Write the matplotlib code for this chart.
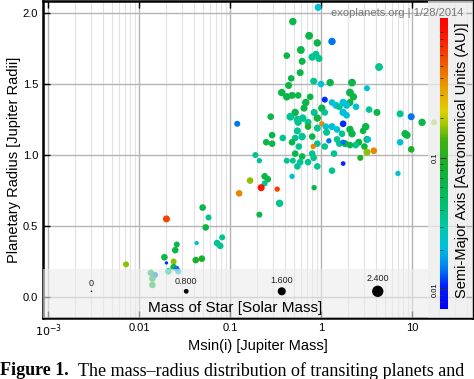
import numpy as np
import matplotlib
matplotlib.use("Agg")
import matplotlib.pyplot as plt
from matplotlib.colors import LinearSegmentedColormap, LogNorm
from matplotlib.ticker import FixedLocator, NullFormatter

plt.rcParams['font.family'] = ['Liberation Sans', 'DejaVu Sans']

# planet mass [Jupiter masses], radius [Jupiter radii], semi-major axis [AU], star mass [Msun]
planet_mass = [
    0.93, 0.49, 0.74, 0.91, 1.32, 0.60, 0.42, 0.62, 0.80, 0.88,
    0.95, 4.34, 0.59, 0.47, 0.83, 1.00, 1.26, 2.19, 0.44, 3.20,
    0.37, 0.42, 0.48, 0.56, 0.76, 2.08, 2.27, 2.08, 1.10, 0.68,
    0.65, 1.32, 1.46, 1.59, 1.75, 1.91, 1.02, 1.10, 0.84, 1.75,
    1.91, 2.42, 3.37, 4.12, 7.40, 9.80, 12.9, 17.5, 0.12, 0.28,
    0.52, 0.46, 0.55, 0.63, 0.56, 0.72, 0.91, 1.02, 0.72, 0.91,
    1.13, 1.15, 1.75, 1.32, 1.50, 1.70, 2.08, 2.19, 3.10, 2.90,
    0.55, 0.62, 0.52, 0.80, 0.91, 1.22, 1.10, 1.59, 0.38, 0.29,
    0.25, 0.29, 0.48, 0.57, 0.82, 3.20, 2.60, 3.30, 2.40, 1.84,
    2.08, 1.75, 1.50, 8.40, 8.80, 7.40, 9.80, 3.00, 3.20, 3.80,
    1.39, 2.70, 1.75, 1.32, 7.00, 0.91, 0.80, 0.83, 0.72, 0.62,
    0.59, 0.52, 0.42, 0.49, 0.55, 0.48, 0.84, 0.24, 0.26, 0.24,
    0.19, 0.21, 0.166, 0.22, 0.33, 0.126, 0.35, 0.21, 0.050, 0.058,
    0.020, 0.054, 0.082, 0.072, 0.078, 0.043, 0.026, 0.025, 0.019, 0.020,
    0.024, 0.024, 0.042, 0.049, 0.0072, 0.021, 0.027, 0.026, 0.0135, 0.015,
    0.014, 0.014,
]
planet_radius = [
    2.04, 1.94, 1.84, 1.79, 1.80, 1.74, 1.70, 1.66, 1.69, 1.71,
    1.68, 1.62, 1.58, 1.54, 1.52, 1.50, 1.51, 1.51, 1.49, 1.47,
    1.44, 1.41, 1.42, 1.42, 1.41, 1.44, 1.41, 1.37, 1.39, 1.37,
    1.33, 1.37, 1.35, 1.34, 1.37, 1.35, 1.33, 1.30, 1.30, 1.30,
    1.28, 1.34, 1.32, 1.30, 1.29, 1.27, 1.23, 1.23, 1.22, 1.27,
    1.30, 1.27, 1.25, 1.26, 1.23, 1.23, 1.26, 1.22, 1.20, 1.19,
    1.20, 1.16, 1.22, 1.20, 1.18, 1.15, 1.18, 1.15, 1.20, 1.17,
    1.17, 1.13, 1.12, 1.13, 1.08, 1.10, 1.06, 1.08, 1.12, 1.14,
    1.09, 1.08, 1.09, 1.06, 1.06, 1.11, 1.09, 1.11, 1.07, 1.08,
    1.07, 1.09, 1.11, 1.15, 1.14, 1.09, 1.04, 1.06, 1.02, 1.03,
    1.01, 0.98, 0.94, 0.89, 0.87, 0.92, 1.01, 0.98, 0.95, 0.99,
    0.95, 1.01, 0.96, 0.96, 0.92, 0.85, 0.77, 0.85, 0.83, 0.80,
    1.00, 0.96, 0.82, 0.77, 0.76, 0.73, 0.66, 0.58, 0.63, 0.56,
    0.55, 0.49, 0.42, 0.38, 0.36, 0.38, 0.37, 0.33, 0.28, 0.24,
    0.25, 0.21, 0.26, 0.27, 0.23, 0.18, 0.18, 0.20, 0.17, 0.155,
    0.13, 0.085,
]
semi_major = [
    0.022, 0.065, 0.065, 0.065, 0.014, 0.065, 0.065, 0.065, 0.035, 0.035,
    0.035, 0.035, 0.065, 0.065, 0.035, 0.022, 0.065, 0.065, 0.065, 0.022,
    0.065, 0.065, 0.065, 0.065, 0.065, 0.065, 0.065, 0.065, 0.011, 0.065,
    0.065, 0.022, 0.022, 0.035, 0.022, 0.022, 0.065, 0.035, 0.035, 0.022,
    0.022, 0.022, 0.035, 0.065, 0.035, 0.014, 0.065, 0.17, 0.014, 0.065,
    0.065, 0.035, 0.035, 0.035, 0.035, 0.035, 0.065, 0.40, 0.09, 0.035,
    0.022, 0.035, 0.011, 0.022, 0.022, 0.035, 0.065, 0.065, 0.065, 0.065,
    0.035, 0.035, 0.035, 0.065, 0.035, 0.014, 0.035, 0.035, 0.035, 0.065,
    0.065, 0.065, 0.065, 0.035, 0.40, 0.065, 0.065, 0.022, 0.035, 0.065,
    0.065, 0.014, 0.035, 0.065, 0.065, 0.022, 0.09, 0.065, 0.17, 0.40,
    0.035, 0.09, 0.011, 0.035, 0.022, 0.035, 0.035, 0.035, 0.035, 0.065,
    0.035, 0.065, 0.035, 0.035, 0.035, 0.022, 0.065, 0.065, 0.065, 0.035,
    0.035, 0.035, 0.17, 0.90, 0.60, 0.40, 0.035, 0.065, 0.065, 0.035,
    0.60, 0.065, 0.035, 0.035, 0.035, 0.022, 0.065, 0.065, 0.065, 0.011,
    0.17, 0.065, 0.09, 0.09, 0.17, 0.035, 0.022, 0.014, 0.065, 0.014,
    0.065, 0.065,
]
star_mass = [
    1.35, 1.45, 1.55, 1.45, 1.45, 1.55, 1.25, 1.35, 1.45, 1.35,
    1.35, 1.55, 1.35, 1.25, 1.35, 1.25, 1.45, 1.55, 1.35, 1.10,
    1.45, 1.45, 1.35, 1.25, 1.25, 1.55, 1.45, 1.35, 1.10, 1.45,
    1.35, 1.25, 1.35, 1.25, 1.45, 1.35, 1.45, 1.25, 1.35, 1.45,
    1.25, 1.25, 1.25, 1.35, 1.35, 1.35, 1.45, 1.10, 1.10, 1.25,
    1.45, 1.55, 1.45, 1.45, 1.35, 1.35, 1.45, 0.95, 1.25, 1.35,
    1.25, 1.35, 1.25, 1.35, 1.25, 1.25, 1.45, 1.45, 1.45, 1.25,
    1.35, 1.45, 1.25, 1.25, 1.25, 0.95, 1.25, 1.25, 1.25, 1.25,
    1.25, 1.25, 1.25, 1.25, 0.95, 1.35, 1.35, 1.10, 1.25, 1.35,
    1.25, 0.95, 1.25, 1.45, 1.45, 1.25, 1.25, 1.25, 1.35, 1.25,
    1.25, 1.10, 0.80, 1.25, 0.95, 1.25, 1.25, 1.25, 1.25, 1.25,
    1.25, 1.25, 1.10, 1.10, 1.25, 0.95, 0.95, 1.25, 1.25, 1.10,
    1.10, 0.95, 1.25, 1.35, 0.95, 1.25, 1.45, 1.10, 1.25, 1.10,
    1.35, 1.25, 1.10, 1.25, 1.25, 0.70, 1.10, 1.25, 1.25, 0.45,
    1.10, 1.25, 1.25, 1.25, 1.10, 1.25, 1.10, 0.95, 1.25, 1.10,
    1.25, 1.25,
]

legend_star_mass = [0.0, 0.8, 1.6, 2.4]
legend_x = [0.0030, 0.033, 0.37, 4.2]
legend_labels = ["0", "0.800", "1.600", "2.400"]


def marker_size(m):
    d_px = 1.5 + 4.1 * np.asarray(m)
    return (d_px * 0.72) ** 2


cmap = LinearSegmentedColormap.from_list("sma", [
    (0.00, "#0000ff"), (0.08, "#0020ff"), (0.14, "#0080f0"), (0.21, "#00c0e0"),
    (0.28, "#00c8a8"), (0.36, "#00c070"), (0.48, "#10b030"), (0.58, "#40b010"),
    (0.64, "#a8c800"), (0.68, "#e0d000"), (0.76, "#e8a000"), (0.84, "#f06000"),
    (0.92, "#ff2000"), (1.00, "#ff0000")])
norm = LogNorm(vmin=0.0071, vmax=1.15)

fig = plt.figure(figsize=(4.74, 3.79), dpi=100)
ax = fig.add_axes([43 / 474, 61 / 379, 430 / 474, 317 / 379])
ax.set_xscale("log")
ax.set_xlim(8.8e-4, 46.8)
ax.set_ylim(-0.148, 2.085)

# grid
ax.set_axisbelow(True)
ax.xaxis.set_minor_locator(FixedLocator([k * 10.0 ** e for e in range(-4, 2) for k in range(2, 10)]))
ax.xaxis.set_minor_formatter(NullFormatter())
ax.grid(which="major", color="#b4b4b4", lw=1.0)
ax.grid(which="minor", axis="x", color="#e2e2e2", lw=0.8)

sc = ax.scatter(planet_mass, planet_radius, c=semi_major, s=marker_size(star_mass),
                cmap=cmap, norm=norm, linewidths=0, zorder=3)

# grey panels
ax.axhspan(-0.148, 0.197, xmin=0, xmax=385 / 430, color="#ececec", alpha=0.6, lw=0, zorder=4)
ax.axvspan(15.0, 46.8, color="#ececec", alpha=0.75, lw=0, zorder=4)

# star mass legend
ax.scatter(legend_x, [0.04] * 4, s=marker_size(legend_star_mass), c="k", linewidths=0, zorder=6)
for xv, m, lab in zip(legend_x, legend_star_mass, legend_labels):
    ax.annotate(lab, (xv, 0.04), xytext=(0, (1.5 + 4 * m) * 0.36 + 2), textcoords="offset points",
                ha="center", va="bottom", fontsize=6.5, color="#222222", zorder=6)
ax.text(0.113, -0.075, "Mass of Star [Solar Mass]", ha="center", va="center", fontsize=11, zorder=6)

ax.set_xticks([1e-3, 1e-2, 1e-1, 1, 10])
ax.set_xticklabels([r"$10^{-3}$", "0.01", "0.1", "1", "10"])
ax.set_yticks([0.0, 0.5, 1.0, 1.5, 2.0])
ax.set_yticklabels(["0.0", "0.5", "1.0", "1.5", "2.0"])
ax.tick_params(which="major", direction="in", length=5, width=1, top=True, right=True, labelsize=8)
ax.tick_params(which="minor", length=0)
for s in ax.spines.values():
    s.set_linewidth(1.8)
ax.set_xlabel("Msin(i) [Jupiter Mass]", fontsize=10.5, labelpad=0)
ax.set_ylabel("Planetary Radius [Jupiter Radii]", fontsize=10.5, labelpad=1)

# colour bar
cax = fig.add_axes([440 / 474, 70 / 379, 8 / 474, 291 / 379])
cb = fig.colorbar(sc, cax=cax)
cb.outline.set_visible(False)
cax.yaxis.set_ticks_position("left")
cax.yaxis.set_label_position("left")
cax.set_yticks([0.01, 0.1])
cax.set_yticklabels(["0.01", "0.1"])
cax.tick_params(which="both", direction="in", color="#333333", labelsize=5.5, pad=1)
cax.tick_params(which="major", length=4)
cax.tick_params(which="minor", length=2)
for lab in cax.get_yticklabels():
    lab.set_rotation(90)
    lab.set_va("center")

fig.text(462 / 474, 1 - 160 / 379, "Semi-Major Axis [Astronomical Units (AU)]", rotation=90,
         ha="center", va="center", fontsize=10.5)
fig.text(463 / 474, 1 - 13 / 379, "exoplanets.org | 1/28/2014", ha="right", va="center",
         fontsize=8, color="#777777", zorder=10)

fig.text(0.0, 1 - 362 / 379, "Figure 1.", ha="left", va="top", fontsize=13,
         family="Liberation Serif", weight="bold")
fig.text(0.165, 1 - 362 / 379, "The mass\u2013radius distribution of transiting planets and",
         ha="left", va="top", fontsize=13, family="Liberation Serif")

fig.savefig("out.png", dpi=100)
